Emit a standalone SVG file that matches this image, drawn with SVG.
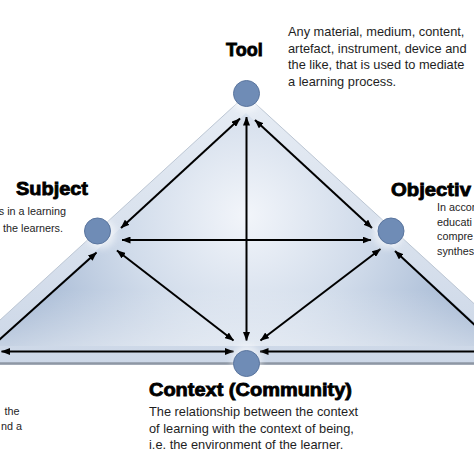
<svg xmlns="http://www.w3.org/2000/svg" width="474" height="474" viewBox="0 0 474 474">
<defs>
<style>
.head{font-family:"Liberation Sans",Arial,sans-serif;font-weight:bold;font-size:18px;fill:#000;stroke:#000;stroke-width:0.8}
.desc{font-family:"Liberation Sans",Arial,sans-serif;font-size:12.8px;fill:#1e1e1e}
.small{font-family:"Liberation Sans",Arial,sans-serif;font-size:10.8px;fill:#1e1e1e}
.node circle.dot{fill:#6f8cb6;stroke:#5a759e;stroke-width:1}
.node circle.glow{fill:#ffffff;opacity:0.55;filter:url(#blur)}
#connectors line{stroke:#000;stroke-width:2;marker-start:url(#ah);marker-end:url(#ah)}
</style>
<marker id="ah" viewBox="0 0 9 7" refX="8.5" refY="3.5" markerWidth="9" markerHeight="7" markerUnits="userSpaceOnUse" orient="auto-start-reverse">
<path d="M0,0 L9,3.5 L0,7 Z" fill="#000"/>
</marker>
<filter id="blur" x="-50%" y="-50%" width="200%" height="200%"><feGaussianBlur stdDeviation="3"/></filter>
<linearGradient id="band" x1="0" y1="0" x2="0" y2="1">
<stop offset="0" stop-color="#e6ecf4"/>
<stop offset="1" stop-color="#ccd7e7"/>
</linearGradient>
<radialGradient id="inner" cx="246" cy="215" r="270" gradientUnits="userSpaceOnUse">
<stop offset="0" stop-color="#f2f5fa"/>
<stop offset="0.45" stop-color="#d0dbea"/>
<stop offset="1" stop-color="#98aecd"/>
</radialGradient>
<linearGradient id="baseglow" x1="0" y1="0" x2="0" y2="1">
<stop offset="0" stop-color="#ffffff" stop-opacity="0"/>
<stop offset="1" stop-color="#ffffff" stop-opacity="0.45"/>
</linearGradient>
</defs>
<rect width="474" height="474" fill="#ffffff"/>
<g id="triangle">
<path d="M246,95 L540,364 L-48,364 Z" fill="url(#band)" stroke="#bcc6d3" stroke-width="1"/>
<path d="M246,113 L500,346 L-8,346 Z" fill="url(#inner)"/>
<path d="M55,290 L437,290 L500,346 L-8,346 Z" fill="url(#baseglow)"/>
<line x1="-48" y1="363.5" x2="540" y2="363.5" stroke="#8e97a4" stroke-width="2.5"/>
</g>
<g id="connectors">
<line x1="121" y1="228" x2="240" y2="118.5"/>
<line x1="246.5" y1="117" x2="246.5" y2="340.5"/>
<line x1="255" y1="120" x2="372" y2="228"/>
<line x1="122" y1="240" x2="371" y2="240"/>
<line x1="117" y1="250.5" x2="233.5" y2="340.5"/>
<line x1="380.5" y1="249" x2="260.5" y2="340.5"/>
<line x1="96.5" y1="252.5" x2="-12" y2="350"/>
<line x1="1.5" y1="351.5" x2="233.5" y2="351.5"/>
<line x1="260" y1="351.5" x2="490" y2="351.5"/>
<line x1="395" y1="251" x2="492" y2="341"/>
</g>
<g id="tool" class="node">
<circle class="glow" cx="246.5" cy="97" r="15"/>
<circle class="dot" cx="246.5" cy="93.5" r="13"/>
<text class="head" x="226" y="55.5">Tool</text>
<text class="desc" x="288" y="36">Any material, medium, content,</text>
<text class="desc" x="288" y="52.5">artefact, instrument, device and</text>
<text class="desc" x="288" y="69">the like, that is used to mediate</text>
<text class="desc" x="288" y="85.5">a learning process.</text>
</g>
<g id="subject" class="node">
<circle class="glow" cx="101" cy="234" r="15"/>
<circle class="dot" cx="97.5" cy="231" r="13"/>
<text class="head" x="16" y="195" textLength="72" lengthAdjust="spacingAndGlyphs">Subject</text>
<text class="small" x="66" y="215" text-anchor="end">s in a learning</text>
<text class="small" x="63" y="231.5" text-anchor="end">the learners.</text>
</g>
<g id="objective" class="node">
<circle class="glow" cx="388" cy="234" r="15"/>
<circle class="dot" cx="391" cy="231" r="13"/>
<text class="head" x="391" y="196" textLength="80" lengthAdjust="spacingAndGlyphs">Objectiv</text>
<text class="small" x="437" y="211">In accor</text>
<text class="small" x="437" y="225.5">educati</text>
<text class="small" x="437" y="240">compre</text>
<text class="small" x="437" y="254.5">synthes</text>
</g>
<g id="context" class="node">
<circle class="glow" cx="246.5" cy="360" r="15"/>
<circle class="dot" cx="246.5" cy="363.5" r="13"/>
<text class="head" x="149" y="396" textLength="203" lengthAdjust="spacingAndGlyphs">Context (Community)</text>
<text class="desc" x="149" y="416">The relationship between the context</text>
<text class="desc" x="149" y="432.5">of learning with the context of being,</text>
<text class="desc" x="149" y="449">i.e. the environment of the learner.</text>
</g>
<g id="left-text">
<text class="small" x="19.5" y="415" text-anchor="end">the</text>
<text class="small" x="22" y="430" text-anchor="end">nd a</text>
</g>
</svg>
